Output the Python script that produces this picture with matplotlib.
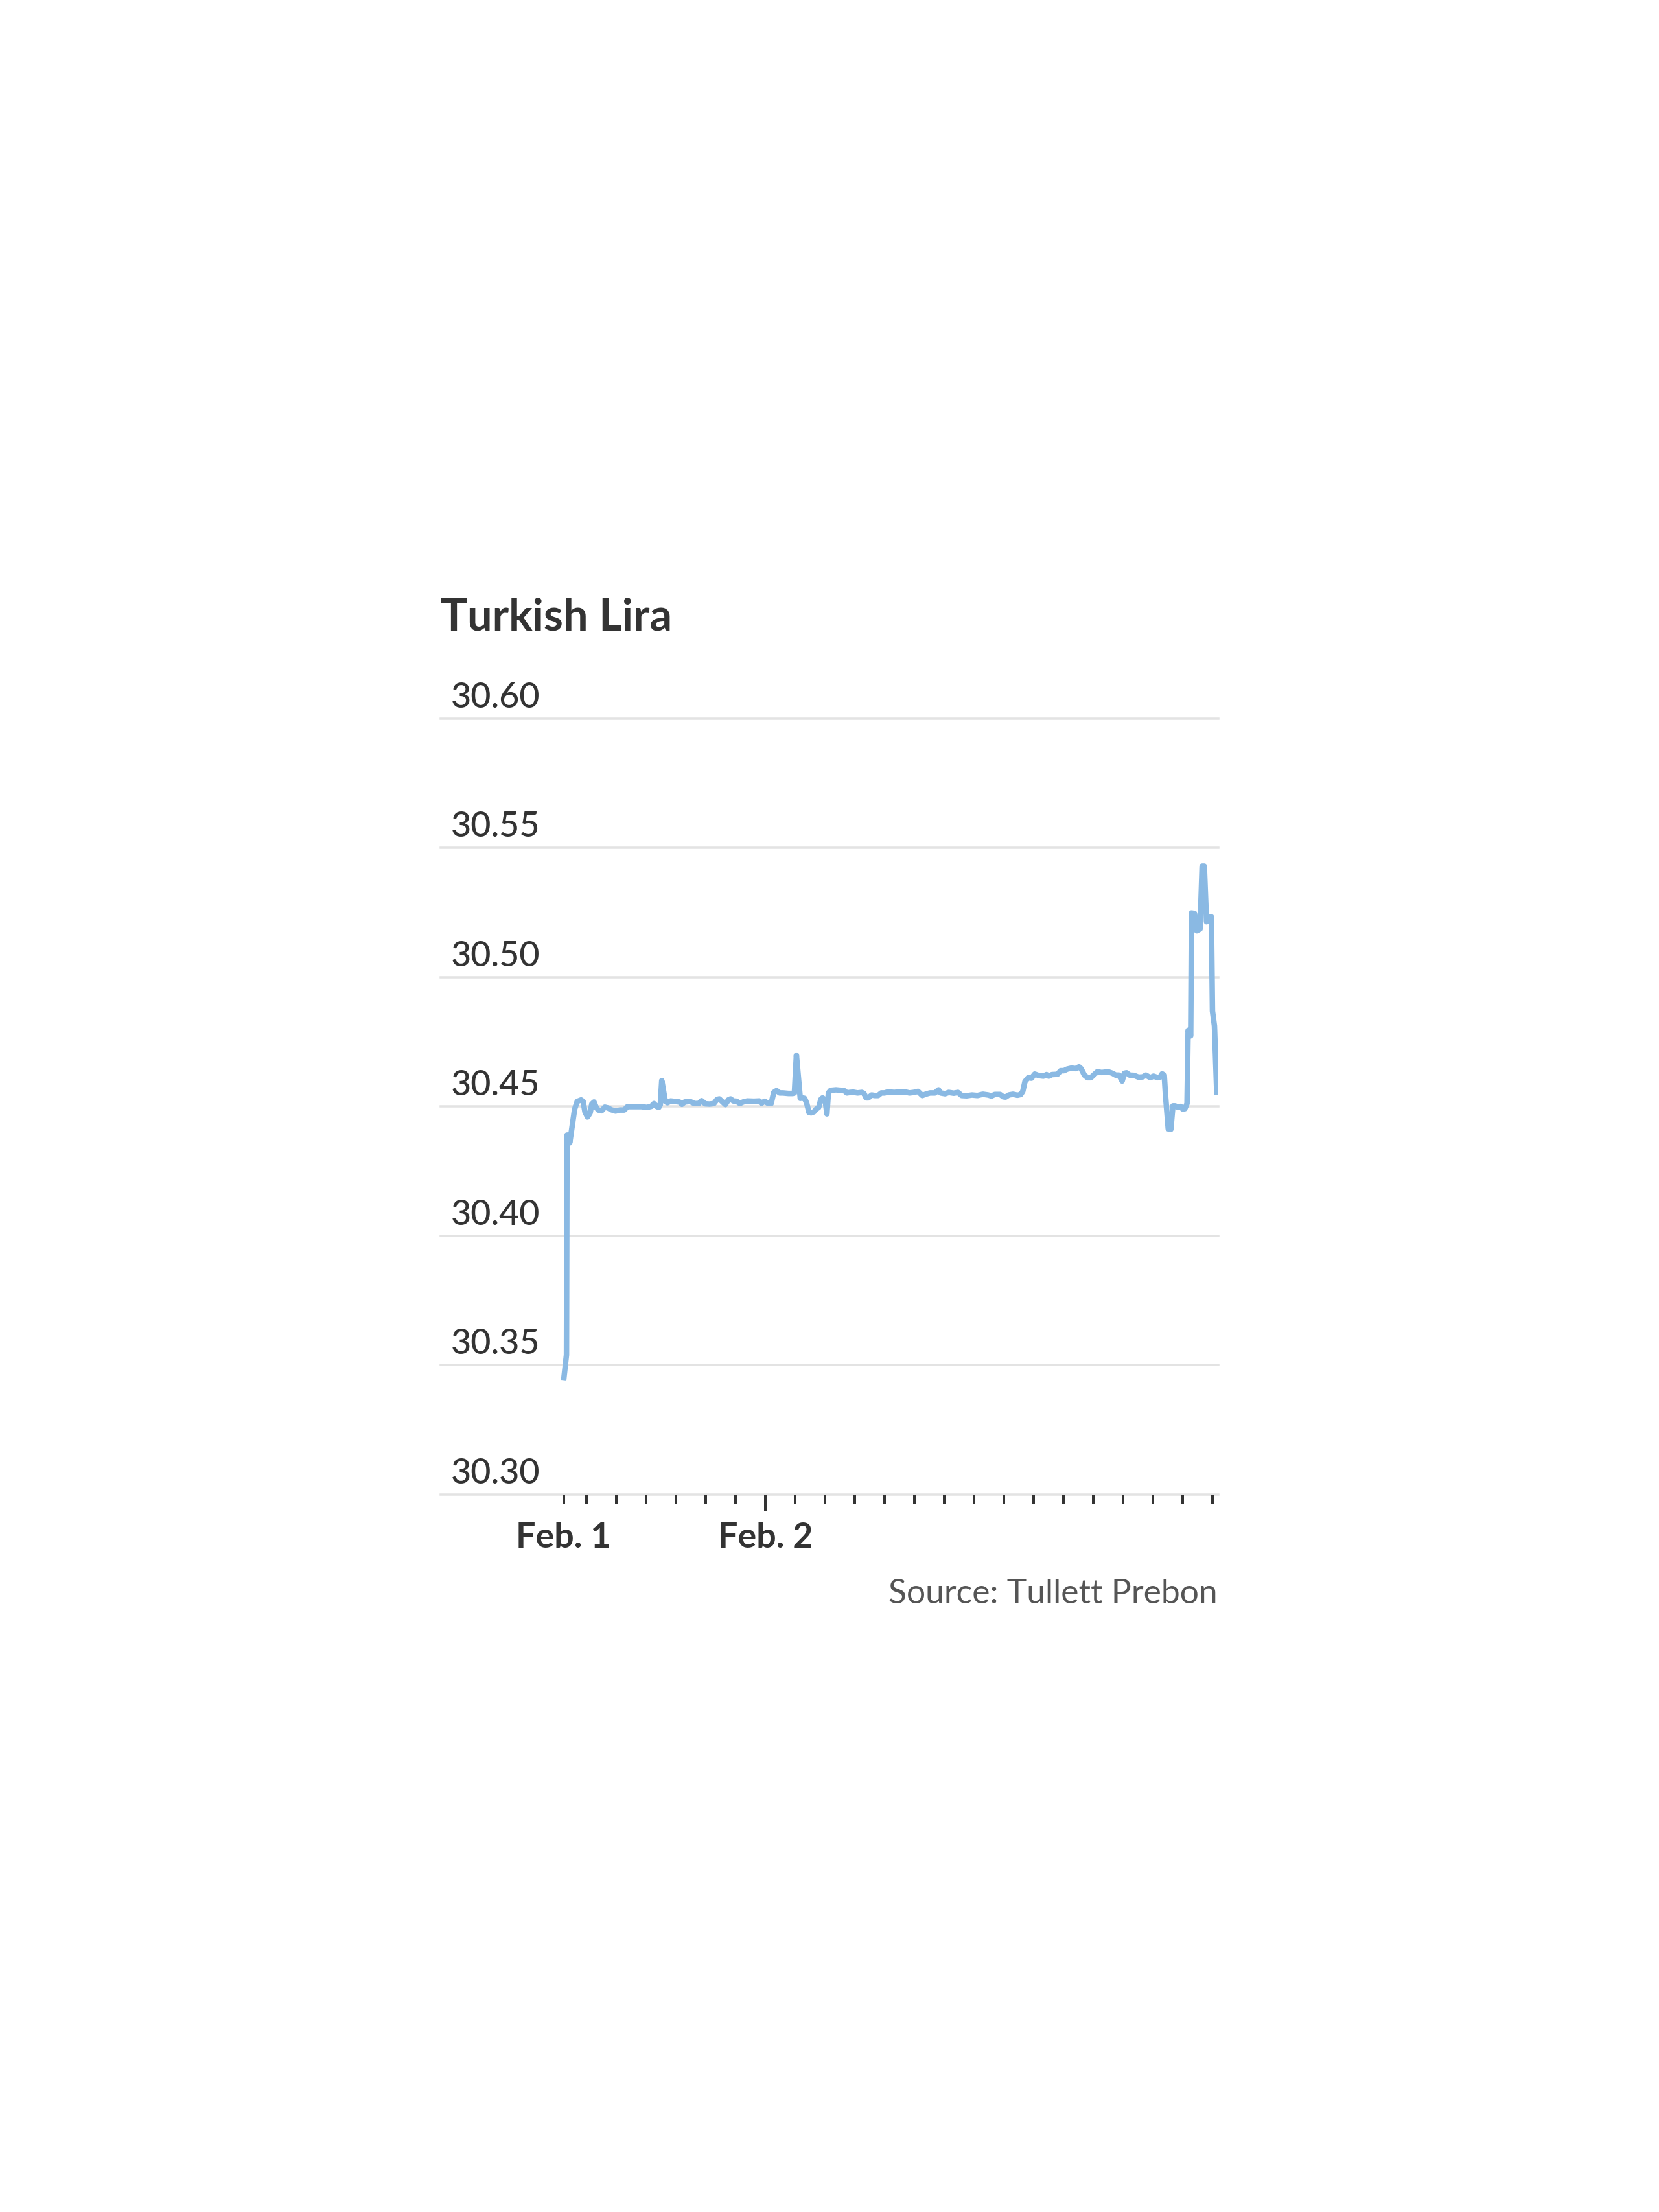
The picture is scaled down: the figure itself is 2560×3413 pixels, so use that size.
import matplotlib
matplotlib.use("Agg")
import matplotlib.pyplot as plt
import matplotlib.transforms as mtransforms

# ---------------- data ----------------
title = "Turkish Lira"
source = "Source: Tullett Prebon"

# hours since Feb. 1 00:00
hours = [3.70, 3.99, 4.04, 4.19, 4.32, 4.58, 4.81, 5.07, 5.46, 5.67, 5.85, 6.11, 6.37, 6.54, 6.76, 6.98,
         7.19, 7.52, 7.85, 8.17, 8.50, 8.93, 9.37, 9.80, 10.13, 10.68, 11.54, 12.08, 12.52, 12.80, 13.06,
         13.28, 13.43, 13.58, 13.94, 14.15, 14.48, 14.92, 15.35, 15.61, 15.89, 16.43, 16.87, 17.30, 17.59,
         17.95, 18.39, 18.83, 19.15, 19.37, 19.70, 19.98, 20.28, 20.50, 20.78, 21.11, 21.44, 21.76, 22.19,
         22.85, 23.39, 23.61, 23.93, 24.26, 24.59, 24.85, 25.13, 25.45, 25.78, 26.33, 26.76, 26.93, 27.13,
         27.52, 27.74, 27.96, 28.17, 28.39, 28.61, 28.89, 29.11, 29.37, 29.59, 29.76, 30.02, 30.20, 30.35,
         30.57, 31.11, 31.65, 31.98, 32.20, 32.52, 32.85, 33.28, 33.72, 33.93, 34.15, 34.37, 34.70, 35.02,
         35.35, 35.67, 36.00, 36.33, 36.98, 37.52, 38.07, 38.50, 38.93, 39.37, 39.59, 39.80, 40.13, 40.57,
         41.07, 41.43, 41.65, 42.09, 42.46, 42.96, 43.39, 43.76, 44.26, 44.80, 45.35, 45.89, 46.43, 46.76,
         47.09, 47.63, 47.95, 48.18, 48.50, 48.93, 49.37, 49.70, 49.91, 50.13, 50.46, 50.78, 51.11, 51.54,
         51.98, 52.30, 52.52, 52.85, 53.39, 53.72, 54.05, 54.37, 54.81, 55.24, 55.57, 55.78, 56.11, 56.43,
         56.76, 57.09, 57.41, 57.85, 58.50, 58.94, 59.26, 59.59, 59.91, 60.13, 60.35, 60.67, 61.11, 61.55,
         61.98, 62.30, 62.74, 63.07, 63.50, 63.72, 63.93, 64.15, 64.26, 64.55, 64.81, 65.02, 65.24, 65.57,
         65.79, 66.00, 66.22, 66.44, 66.55, 66.81, 66.89, 67.20, 67.42, 67.75, 67.96, 68.18, 68.40, 68.61,
         68.89, 69.00, 69.20, 69.44]

rates = [30.344, 30.354, 30.439, 30.439, 30.436, 30.443, 30.449, 30.452, 30.4526, 30.452, 30.448, 30.446,
         30.4476, 30.451, 30.4518, 30.4497, 30.4487, 30.4484, 30.4498, 30.4495, 30.4488, 30.4483, 30.4487,
         30.4487, 30.4500, 30.4500, 30.4500, 30.4497, 30.4501, 30.4512, 30.4501, 30.4497, 30.4507, 30.4601,
         30.4520, 30.4515, 30.4522, 30.4520, 30.4518, 30.4509, 30.4518, 30.4520, 30.4512, 30.4512, 30.4523,
         30.4511, 30.4510, 30.4512, 30.4528, 30.4530, 30.4518, 30.4508, 30.4526, 30.4530, 30.4522, 30.4521,
         30.4512, 30.4518, 30.4522, 30.4521, 30.4522, 30.4513, 30.4521, 30.4513, 30.4512, 30.4555, 30.4562,
         30.4553, 30.4553, 30.4551, 30.4551, 30.4553, 30.4699, 30.4532, 30.4534, 30.4532, 30.4513, 30.4478,
         30.4476, 30.4480, 30.4490, 30.4497, 30.4528, 30.4534, 30.4526, 30.4472, 30.4553, 30.4563, 30.4565,
         30.4563, 30.4561, 30.4553, 30.4555, 30.4556, 30.4553, 30.4555, 30.4551, 30.4534, 30.4534, 30.4545,
         30.4543, 30.4543, 30.4553, 30.4553, 30.4557, 30.4555, 30.4557, 30.4557, 30.4553, 30.4555, 30.4559,
         30.4551, 30.4543, 30.4548, 30.4553, 30.4553, 30.4565, 30.4553, 30.4550, 30.4555, 30.4552, 30.4555,
         30.4543, 30.4542, 30.4545, 30.4543, 30.4548, 30.4545, 30.4541, 30.4547, 30.4547, 30.4538, 30.4537,
         30.4545, 30.4548, 30.4544, 30.4547, 30.4559, 30.4597, 30.4612, 30.4610, 30.4626, 30.4620, 30.4618,
         30.4624, 30.4618, 30.4624, 30.4625, 30.4639, 30.4639, 30.4645, 30.4649, 30.4647, 30.4654, 30.4647,
         30.4622, 30.4612, 30.4612, 30.4624, 30.4635, 30.4632, 30.4635, 30.4629, 30.4622, 30.4622, 30.4599,
         30.4629, 30.4631, 30.4622, 30.4621, 30.4614, 30.4615, 30.4622, 30.4612, 30.4618, 30.4612, 30.4614,
         30.4627, 30.4622, 30.4552, 30.4414, 30.4412, 30.4503, 30.4503, 30.4497, 30.4501, 30.4491, 30.4492,
         30.4512, 30.4795, 30.4774, 30.5249, 30.5247, 30.5180, 30.5187, 30.5430, 30.5430, 30.5215, 30.5234,
         30.5234, 30.4870, 30.4812, 30.4545]

y_ticks = [30.30, 30.35, 30.40, 30.45, 30.50, 30.55, 30.60]
y_tick_labels = ["30.30", "30.35", "30.40", "30.45", "30.50", "30.55", "30.60"]
x_label_hours = [hours[0], 24]
x_labels = ["Feb. 1", "Feb. 2"]
x_minor_ticks = [6, 9, 12, 15, 18, 21, 27, 30, 33, 36, 39, 42, 45, 48, 51, 54, 57, 60, 63, 66, 69]

# ---------------- figure ----------------
W, H, DPI = 2560, 3413, 100
def pt(px):
    return px * 72.0 / DPI

plt.rcParams['font.family'] = ['Lato', 'DejaVu Sans']
DARK = '#333333'
GRID = '#e3e3e3'
LINE = '#8ab9e3'

fig = plt.figure(figsize=(W / DPI, H / DPI), dpi=DPI)
fig.patch.set_facecolor('white')

ax = fig.add_axes([680 / W, 1 - 2306 / H, 1200 / W, (2306 - 1109) / H])
ax.set_xlim(-8.67, 69.59)
ax.set_ylim(30.30, 30.60)
for s in ax.spines.values():
    s.set_visible(False)
ax.patch.set_alpha(0)

# gridlines
for v in y_ticks:
    ax.axhline(v, color=GRID, linewidth=pt(3.5), zorder=0, clip_on=False)

ax.set_yticks(y_ticks)
ax.tick_params(axis='y', length=0, labelleft=False)

# y labels above gridlines
ytrans = mtransforms.blended_transform_factory(ax.transAxes, ax.transData)
yoff = mtransforms.ScaledTranslation(0, 17 / DPI, fig.dpi_scale_trans)
for v, lab in zip(y_ticks, y_tick_labels):
    ax.text(16 / 1200, v, lab, transform=ytrans + yoff, ha='left', va='baseline',
            fontsize=pt(53.7), fontweight='medium', color=DARK)

# x ticks
ax.set_xticks(x_label_hours)
ax.set_xticks(x_minor_ticks, minor=True)
ax.tick_params(axis='x', which='major', length=pt(26), width=pt(4), color=DARK,
               direction='out', labelbottom=False)
ax.tick_params(axis='x', which='minor', length=pt(15), width=pt(4), color=DARK,
               direction='out', labelbottom=False)
ax.xaxis.get_major_ticks()[0].tick1line.set_markersize(pt(15))

xtrans = mtransforms.blended_transform_factory(ax.transData, ax.transAxes)
xoff = mtransforms.ScaledTranslation(0, -82 / DPI, fig.dpi_scale_trans)
for h, lab in zip(x_label_hours, x_labels):
    ax.text(h, 0, lab, transform=xtrans + xoff, ha='center', va='baseline',
            fontsize=pt(53.7), fontweight='bold', color=DARK)

# data line
ax.plot(hours, rates, color=LINE, linewidth=pt(8.5), solid_capstyle='butt', zorder=3)

# title and source
fig.text(680 / W, 1 - 972 / H, title, ha='left', va='baseline', fontsize=pt(68.4),
         fontweight='bold', color=DARK)
fig.text(1879 / W, 1 - 2474 / H, source, ha='right', va='baseline', fontsize=pt(51.6),
         color='#555555')

fig.savefig('out.png', dpi=DPI, facecolor='white')
